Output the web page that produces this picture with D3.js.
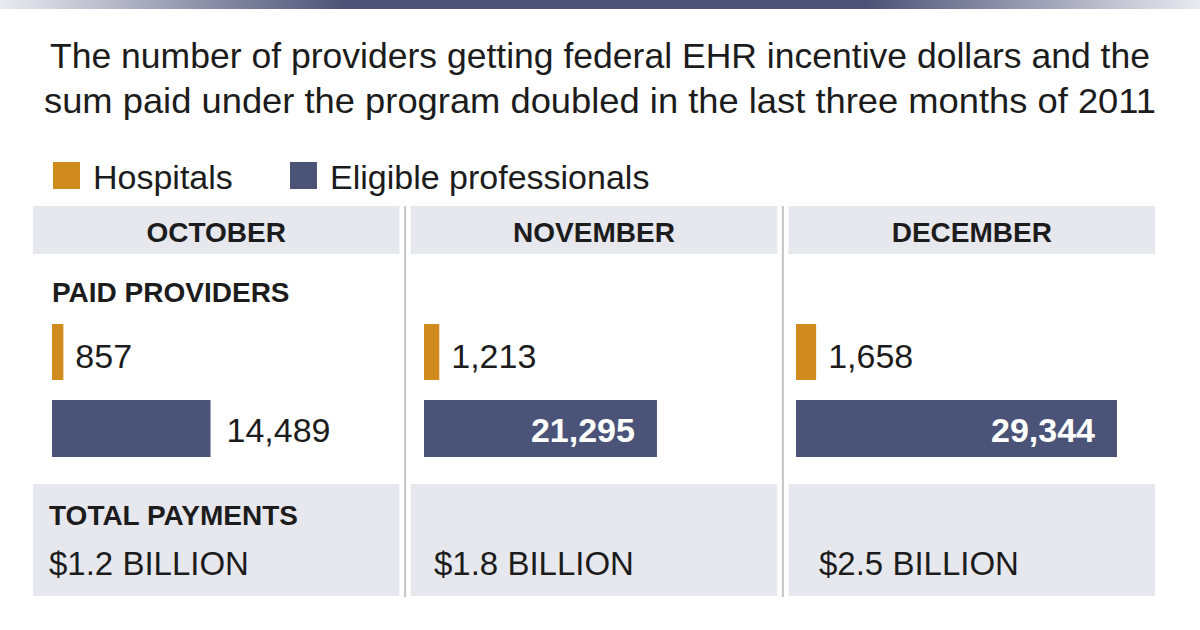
<!DOCTYPE html>
<html>
<head>
<meta charset="utf-8">
<script src="https://cdn.jsdelivr.net/npm/d3@7"></script>
<style>
  body { margin: 0; background: #fff; }
  text { font-family: "Liberation Sans", Arial, sans-serif; fill: #1c1c1c; }
</style>
</head>
<body>
<svg id="chart"></svg>
<script>
// Data
var months = ["OCTOBER", "NOVEMBER", "DECEMBER"];
var hospitals = [857, 1213, 1658];
var professionals = [14489, 21295, 29344];
var payments = ["$1.2 BILLION", "$1.8 BILLION", "$2.5 BILLION"];
var titleLines = [
  "The number of providers getting federal EHR incentive dollars and the",
  "sum paid under the program doubled in the last three months of 2011"
];
var legendItems = ["Hospitals", "Eligible professionals"];

var W = 1200, H = 630;
var orange = "#d08b1e", navy = "#4b5478", band = "#e6e8ee";

var svg = d3.select("#chart").attr("width", W).attr("height", H);

// Top gradient strip
var grad = svg.append("defs").append("linearGradient").attr("id", "topGrad");
grad.append("stop").attr("offset", "0%").attr("stop-color", "#eaeaf0");
grad.append("stop").attr("offset", "29%").attr("stop-color", "#4b5275");
grad.append("stop").attr("offset", "72%").attr("stop-color", "#4b5275");
grad.append("stop").attr("offset", "100%").attr("stop-color", "#eaeaf0");
svg.append("rect").attr("x", 0).attr("y", 0).attr("width", W).attr("height", 9)
    .attr("fill", "url(#topGrad)");

// Title
svg.selectAll(".title")
    .data(titleLines)
  .enter().append("text")
    .attr("class", "title")
    .attr("x", W / 2)
    .attr("y", function(d, i) { return 68 + i * 45; })
    .attr("text-anchor", "middle")
    .attr("font-size", 35)
    .attr("textLength", function(d, i) { return i === 0 ? 1100 : 1112; })
    .attr("lengthAdjust", "spacingAndGlyphs")
    .text(function(d) { return d; });

// Legend
var legendX = [53, 290];
var lg = svg.selectAll(".legend")
    .data(legendItems)
  .enter().append("g")
    .attr("class", "legend")
    .attr("transform", function(d, i) { return "translate(" + legendX[i] + ",162)"; });
lg.append("rect").attr("width", 27).attr("height", 27)
    .attr("fill", function(d, i) { return i === 0 ? orange : navy; });
lg.append("text").attr("x", 40).attr("y", 27).attr("font-size", 34)
    .text(function(d) { return d; });

// Column panels
var x = d3.scaleBand()
    .domain(months)
    .range([33, 1155])
    .paddingInner(0.03);

// Where bars and payment labels start in each column
var barStart = d3.scalePoint().domain(months).range([52, 796]);
var payStart = d3.scalePoint().domain(months).range([49, 819]);

// Bar length scale (shared for both series)
var len = d3.scaleLinear()
    .domain([0, d3.max(professionals)])
    .range([0, 321]);

// Vertical separators
var seps = months.slice(1).map(function(m) { return x(m) - (x.step() - x.bandwidth()) / 2; });
svg.selectAll(".sep")
    .data(seps)
  .enter().append("line")
    .attr("x1", function(d) { return d; }).attr("x2", function(d) { return d; })
    .attr("y1", 206).attr("y2", 597)
    .attr("stroke", "#c4c4c8").attr("stroke-width", 2);

// Month headers
svg.selectAll(".head")
    .data(months)
  .enter().append("rect")
    .attr("x", function(d) { return x(d); })
    .attr("y", 206)
    .attr("width", x.bandwidth())
    .attr("height", 48)
    .attr("fill", band);
svg.selectAll(".headText")
    .data(months)
  .enter().append("text")
    .attr("x", function(d) { return x(d) + x.bandwidth() / 2; })
    .attr("y", 242)
    .attr("text-anchor", "middle")
    .attr("font-size", 28)
    .attr("font-weight", "bold")
    .text(function(d) { return d; });

svg.append("text")
    .attr("x", barStart(months[0])).attr("y", 302)
    .attr("font-size", 28).attr("font-weight", "bold")
    .text("PAID PROVIDERS");

var fmt = d3.format(",");

// Hospital bars
svg.selectAll(".hosp")
    .data(hospitals)
  .enter().append("rect")
    .attr("class", "hosp")
    .attr("x", function(d, i) { return barStart(months[i]); })
    .attr("y", 324)
    .attr("width", function(d) { return len(d) + 2; })
    .attr("height", 56)
    .attr("fill", orange);
svg.selectAll(".hospLabel")
    .data(hospitals)
  .enter().append("text")
    .attr("x", function(d, i) { return barStart(months[i]) + len(d) + 2 + 12; })
    .attr("y", 368)
    .attr("font-size", 34)
    .text(function(d) { return fmt(d); });

// Eligible professional bars
svg.selectAll(".ep")
    .data(professionals)
  .enter().append("rect")
    .attr("class", "ep")
    .attr("x", function(d, i) { return barStart(months[i]); })
    .attr("y", 400)
    .attr("width", function(d) { return len(d); })
    .attr("height", 57)
    .attr("fill", navy);
svg.selectAll(".epLabel")
    .data(professionals)
  .enter().append("text")
    .each(function(d, i) {
      var inside = len(d) > 200;
      var x0 = barStart(months[i]);
      d3.select(this)
        .attr("x", inside ? x0 + len(d) - 22 : x0 + len(d) + 16)
        .attr("y", 442)
        .attr("text-anchor", inside ? "end" : "start")
        .attr("font-size", 34)
        .attr("font-weight", inside ? "bold" : "normal")
        .style("fill", inside ? "#fff" : "#1c1c1c");
    })
    .text(function(d) { return fmt(d); });

// Total payments
svg.selectAll(".pay")
    .data(payments)
  .enter().append("rect")
    .attr("x", function(d, i) { return x(months[i]); })
    .attr("y", 484)
    .attr("width", x.bandwidth())
    .attr("height", 112)
    .attr("fill", band);
svg.append("text")
    .attr("x", payStart(months[0])).attr("y", 525)
    .attr("font-size", 28).attr("font-weight", "bold")
    .text("TOTAL PAYMENTS");
svg.selectAll(".payText")
    .data(payments)
  .enter().append("text")
    .attr("x", function(d, i) { return payStart(months[i]); })
    .attr("y", 575)
    .attr("font-size", 33)
    .text(function(d) { return d; });
</script>
</body>
</html>
